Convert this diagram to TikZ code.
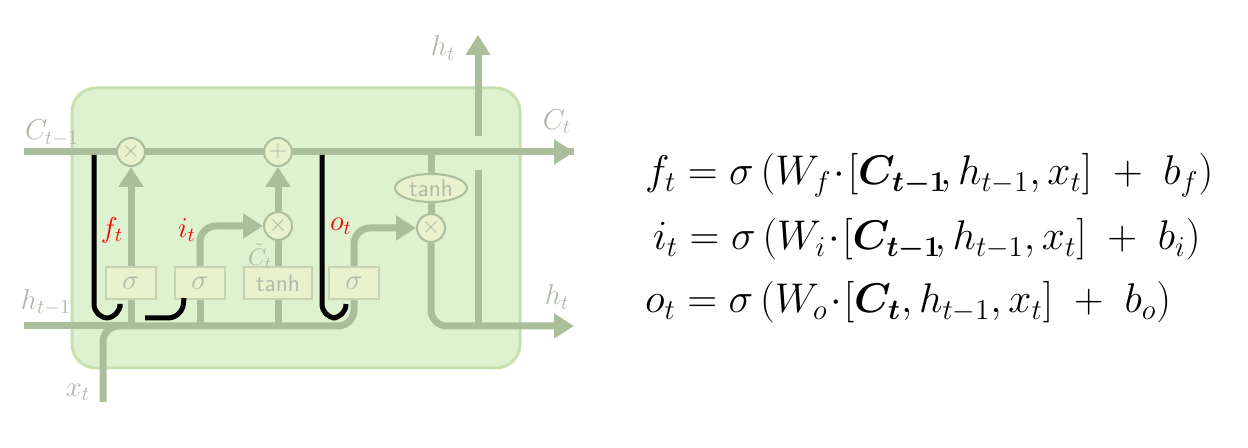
\documentclass[tikz,border=0pt]{standalone}
\usepackage{amsmath,bm}
\usetikzlibrary{arrows.meta,shapes.geometric}
\definecolor{ln}{RGB}{170,190,155}
\definecolor{cellfill}{RGB}{222,242,208}
\definecolor{cellbd}{RGB}{196,224,176}
\definecolor{gatefill}{RGB}{232,242,205}
\definecolor{gatebd}{RGB}{200,210,175}
\definecolor{txt}{RGB}{175,185,170}
\begin{document}
\begin{tikzpicture}[x=0.5pt,y=-0.5pt,
  flow/.style={draw=ln,line width=3.5pt,rounded corners=8pt},
  arr/.style={flow,-{Triangle[width=12pt,length=10pt]}},
  op/.style={circle,draw=ln,fill=gatefill,line width=1pt,minimum size=14pt,inner sep=0pt,text=txt,font=\sffamily\large},
  gate/.style={draw=gatebd,fill=gatefill,line width=1pt,minimum width=25pt,minimum height=16pt,inner sep=0pt,text=txt,font=\sffamily\Large},
  lab/.style={text=txt,font=\Large},
  blk/.style={draw=black,line width=2.5pt,rounded corners=7pt},
  red/.style={text=red,font=\Large}]
\useasboundingbox (0,0) rectangle (1248,448);
\fill[white] (0,0) rectangle (1248,448);
\draw[cellbd,fill=cellfill,line width=1.5pt,rounded corners=12pt] (72,88) rectangle (520,368);
\coordinate (cin) at (24,152); \coordinate (cout) at (574,152);
\coordinate (hin) at (24,326); \coordinate (hout) at (574,326);
\coordinate (htop) at (478,35);
\coordinate (xin) at (103,402);
% connectors first
\draw[flow] (cin) -- (574,152);
\draw[flow] (hin) -- (131,326);
\draw[flow] (xin) -- (103,326) -- (354,326) -- (354,283);
\draw[flow] (131,283) -- (131,326);
\draw[flow] (200,283) -- (200,326);
\draw[flow] (278,283) -- (278,326);
\draw[flow] (431,152) -- (431,228);
\draw[flow] (478,326) -- (478,170);
% nodes
\node[op] (fx) at (131,152) {$\times$};
\node[op] (pl) at (278,152) {$+$};
\node[op] (ix) at (278,226) {$\times$};
\node[op] (ox) at (431,228) {$\times$};
\node[ellipse,draw=ln,fill=gatefill,line width=1pt,minimum width=36pt,minimum height=14pt,inner sep=0pt,text=txt,font=\sffamily\large] (th2) at (431,188) {tanh};
\node[gate] (g1) at (131,283) {$\sigma$};
\node[gate] (g2) at (200,283) {$\sigma$};
\node[gate,minimum width=34pt,font=\sffamily\large] (g3) at (278,283) {tanh};
\node[gate] (g4) at (354,283) {$\sigma$};
\draw[arr] (pl) -- (cout);
\draw[arr] (g1) -- (fx);
\draw[arr] (g2.north) -- (200,226) -- (ix);
\draw[flow] (g3) -- (ix);
\draw[arr] (ix) -- (pl);
\draw[arr] (g4.north) -- (354,228) -- (ox);
\draw[arr] (ox) -- (431,326) -- (hout);
\draw[arr] (478,136) -- (htop);
% labels
\node[lab] (lc1) at (52,133) {$C_{t-1}$};
\node[lab] (lc2) at (557,122) {$C_t$};
\node[lab] (lh1) at (46,302) {$h_{t-1}$};
\node[lab] (lh2) at (557,297) {$h_t$};
\node[lab] (lh3) at (443,48) {$h_t$};
\node[lab] (lx) at (78,392) {$x_t$};
\node[lab,font=\large] (lct) at (260,256) {$\tilde{C}_t$};
% black annotation lines
\draw[blk] (94,155) -- (94,318) -- (120,318) -- (120,308);
\draw[blk] (145,318) -- (182,318) -- (184,298);
\draw[blk] (322,155) -- (322,318) -- (346,318) -- (346,304);
\node[red] (rf) at (112,230) {$f_t$};
\node[red] (ri) at (187,230) {$i_t$};
\node[red] (ro) at (341,226) {$o_t$};
% equations
\begin{scope}[every node/.style={font=\fontsize{22.5}{26}\selectfont,anchor=base west}]
\node (e1) at (638,185) {$f_t = \sigma\,(W_f\!\cdot\![\bm{C_{t-1}}\!, h_{t-1}, x_t] \;+\; b_f)$};
\node (e2) at (646,250) {$i_t = \sigma\,(W_i\!\cdot\![\bm{C_{t-1}}\!, h_{t-1}, x_t] \;+\; b_i)$};
\node (e3) at (638,313) {$o_t = \sigma\,(W_o\!\cdot\![\bm{C_{t}}, h_{t-1}, x_t] \;+\; b_o)$};
\end{scope}
\end{tikzpicture}
\end{document}
